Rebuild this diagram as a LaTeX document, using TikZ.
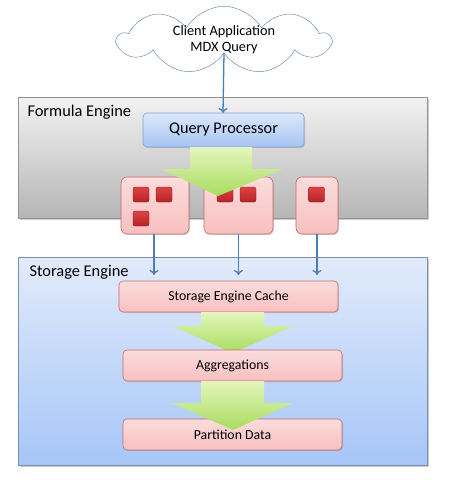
\documentclass[tikz,border=0pt]{standalone}
\usepackage{fontspec}
\setmainfont{Carlito}
\usetikzlibrary{shapes.symbols,shadows,arrows.meta}
\definecolor{bluearrow}{HTML}{4A7EBB}
\definecolor{redfill}{HTML}{F8C0C0}
\definecolor{redfilltop}{HTML}{FCDCDC}
\definecolor{redborder}{HTML}{C46A6A}
\definecolor{sqfill}{HTML}{B82228}
\definecolor{sqtop}{HTML}{DC4444}
\definecolor{greentop}{HTML}{E4F6BC}
\definecolor{greenbot}{HTML}{A8DC5E}
\definecolor{setop}{HTML}{E2EBFB}
\definecolor{sebot}{HTML}{A6C6F8}
\definecolor{seborder}{HTML}{7890B0}
\definecolor{fetop}{HTML}{F2F2F2}
\definecolor{febot}{HTML}{B6B6B6}
\definecolor{qptop}{HTML}{DCE8FC}
\definecolor{qpbot}{HTML}{A8C4F2}
\definecolor{qpborder}{HTML}{7C9ED6}
\tikzset{
  engine/.style={line width=0.8pt, minimum width=409pt, inner sep=0pt, drop shadow={opacity=0.4,shadow xshift=1.5pt,shadow yshift=-1.5pt}},
  redbox/.style={draw=redborder, line width=0.6pt, rounded corners=6pt, top color=redfilltop, bottom color=redfill, inner sep=0pt, drop shadow={opacity=0.3,shadow xshift=1pt,shadow yshift=-1pt}},
  bar/.style={redbox, rounded corners=4pt, minimum width=219pt, minimum height=31pt, font=\fontsize{13.8}{15}\selectfont},
  sq/.style={draw=sqfill!70!black, line width=0.3pt, rounded corners=2pt, top color=sqtop, bottom color=sqfill, minimum width=16pt, minimum height=15pt, inner sep=0pt},
  flow/.style={draw=none, top color=greentop, bottom color=greenbot},
  link/.style={draw=bluearrow, line width=1.3pt, -{To[length=5pt,width=9pt]}},
}
\begin{document}
\begin{tikzpicture}[x=1pt,y=-1pt]
\useasboundingbox[fill=white] (0,0) rectangle (453,480);
% engines
\node[engine, minimum height=121pt, top color=fetop, bottom color=febot, draw=gray!85] (fe) at (222.5,157.5) {};
\node[engine, minimum height=208pt, top color=setop, bottom color=sebot, draw=seborder] (se) at (222.5,361) {};
\node[anchor=west, font=\fontsize{16.4}{18}\selectfont] (fel) at (24,112) {Formula Engine};
\node[anchor=west, font=\fontsize{16.4}{18}\selectfont] (sel) at (26,272) {Storage Engine};
% cloud
\node[cloud, cloud puffs=9, cloud puff arc=120, aspect=3.8, draw=bluearrow!80!gray, fill=white, minimum width=212pt, minimum height=55pt, inner sep=0pt, align=center, font=\fontsize{14.3}{16}\selectfont] (cl) at (224,40) {Client Application\\MDX Query};
% red boxes
\node[redbox, minimum width=68pt, minimum height=57pt] (r1) at (155,205.5) {};
\node[redbox, minimum width=69pt, minimum height=57pt] (r2) at (238.5,205.5) {};
\node[redbox, minimum width=42pt, minimum height=57pt] (r3) at (317,205.5) {};
\node[sq] (s1) at (141,194.5) {};
\node[sq] (s2) at (164,194.5) {};
\node[sq] (s3) at (141,218.5) {};
\node[sq] (s4) at (225,194.5) {};
\node[sq] (s5) at (248,194.5) {};
\node[sq] (s6) at (316.5,194.5) {};
% blue arrows
\coordinate (t1) at (154,275);
\draw[link] (cl.south) -- (223,113);
\draw[link] (r1.south -| t1) -- (t1);
\draw[link] (r2.south) -- (r2.south |- t1);
\draw[link] (r3.south) -- (r3.south |- t1);
% query processor
\node[draw=qpborder, line width=0.6pt, rounded corners=4pt, top color=qptop, bottom color=qpbot, minimum width=161pt, minimum height=34pt, font=\fontsize{16.3}{18}\selectfont, drop shadow={opacity=0.3,shadow xshift=1pt,shadow yshift=-1pt}] (qp) at (223.5,130) {Query Processor};
\path[flow] (190,147) -- (252,147) -- (252,169) -- (283,169) -- (218,196) -- (161,169) -- (190,169) -- cycle;
% storage bars
\node[bar] (sec) at (228.5,296.5) {Storage Engine Cache};
\path[flow] (201,312) -- (264,312) -- (264,326) -- (293,326) -- (233,353) -- (172,326) -- (201,326) -- cycle;
\node[bar] (agg) at (232.5,365.5) {Aggregations};
\node[bar] (pd) at (232.5,434.5) {Partition Data};
\path[flow] (201,381) -- (264,381) -- (264,403) -- (293,403) -- (233,430) -- (172,403) -- (201,403) -- cycle;
\end{tikzpicture}
\end{document}
